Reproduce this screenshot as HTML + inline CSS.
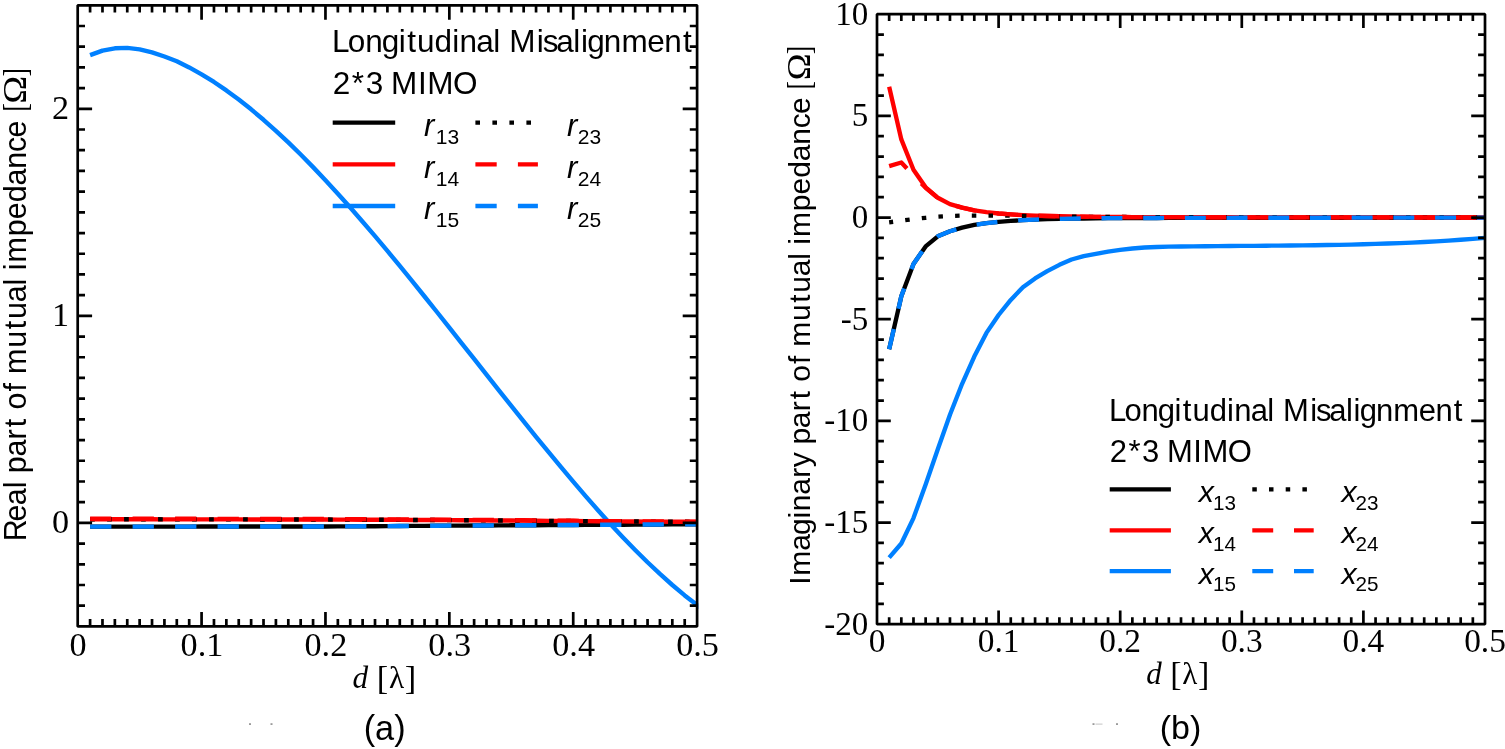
<!DOCTYPE html>
<html lang="en">
<head>
<meta charset="utf-8">
<title>Mutual impedance vs longitudinal misalignment</title>
<style>
html,body{margin:0;padding:0;background:#fff;}
body{width:1505px;height:749px;overflow:hidden;}
svg{display:block;}
</style>
</head>
<body>
<svg width="1505" height="749" viewBox="0 0 1505 749">
<rect x="0" y="0" width="1505" height="749" fill="#fff"/>
<g id="plotA">
<clipPath id="clipA"><rect x="77.7" y="5.3" width="620.6" height="621.1"/></clipPath>
<path d="M90.09 526.6L102.48 526.6L114.86 526.6L127.25 526.6L139.64 526.59L152.03 526.59L164.42 526.59L176.8 526.58L189.19 526.58L201.58 526.57L213.97 526.56L226.36 526.56L238.74 526.55L251.13 526.54L263.52 526.53L275.91 526.52L288.3 526.51L300.68 526.5L313.07 526.48L325.46 526.44L337.85 526.39L350.24 526.33L362.62 526.26L375.01 526.18L387.4 526.09L399.79 526.01L412.18 525.92L424.56 525.83L436.95 525.74L449.34 525.66L461.73 525.59L474.12 525.52L486.5 525.45L498.89 525.38L511.28 525.32L523.67 525.25L536.06 525.18L548.44 525.11L560.83 525.04L573.22 524.97L585.61 524.9L598 524.83L610.38 524.76L622.77 524.68L635.16 524.61L647.55 524.53L659.94 524.45L672.32 524.37L684.71 524.28L697.1 524.2" fill="none" stroke="#000000" stroke-width="4.4"/>
<path d="M90.09 519.3L102.48 519.3L114.86 519.3L127.25 519.31L139.64 519.31L152.03 519.32L164.42 519.33L176.8 519.34L189.19 519.35L201.58 519.36L213.97 519.38L226.36 519.39L238.74 519.41L251.13 519.43L263.52 519.44L275.91 519.46L288.3 519.48L300.68 519.5L313.07 519.53L325.46 519.56L337.85 519.6L350.24 519.64L362.62 519.69L375.01 519.75L387.4 519.81L399.79 519.87L412.18 519.94L424.56 520L436.95 520.07L449.34 520.14L461.73 520.21L474.12 520.28L486.5 520.36L498.89 520.45L511.28 520.54L523.67 520.64L536.06 520.74L548.44 520.84L560.83 520.94L573.22 521.04L585.61 521.14L598 521.24L610.38 521.33L622.77 521.42L635.16 521.5L647.55 521.59L659.94 521.67L672.32 521.75L684.71 521.82L697.1 521.9" fill="none" stroke="#ff0000" stroke-width="4.4"/>
<path d="M90.09 55.1L102.48 50.6L114.86 48.3L127.25 47.9L139.64 49.4L152.03 52.4L164.42 56.5L176.8 61.32L189.19 67.4L201.58 74.3L213.97 81.98L226.36 90.4L238.74 99.54L251.13 109.34L263.52 119.77L275.91 130.81L288.3 142.4L300.68 154.52L313.07 167.12L325.46 180.18L337.85 193.65L350.24 207.5L362.62 221.69L375.01 236.18L387.4 250.94L399.79 265.94L412.18 281.14L424.56 296.5L436.95 312L449.34 327.6L461.73 343.26L474.12 358.96L486.5 374.65L498.89 390.31L511.28 405.91L523.67 421.4L536.06 436.76L548.44 451.96L560.83 466.94L573.22 481.68L585.61 496.13L598 510.22L610.38 523.93L622.77 537.21L635.16 550L647.55 562.26L659.94 573.94L672.32 585.01L684.71 595.4L697.1 605.07L700.1 607.41" fill="none" stroke="#0080ff" stroke-width="4.4" stroke-linejoin="round" clip-path="url(#clipA)"/>
<path d="M90.09 519.3L102.48 519.3L114.86 519.3L127.25 519.31L139.64 519.31L152.03 519.32L164.42 519.33L176.8 519.34L189.19 519.35L201.58 519.36L213.97 519.38L226.36 519.39L238.74 519.41L251.13 519.43L263.52 519.44L275.91 519.46L288.3 519.48L300.68 519.5L313.07 519.53L325.46 519.56L337.85 519.6L350.24 519.64L362.62 519.69L375.01 519.75L387.4 519.81L399.79 519.87L412.18 519.94L424.56 520L436.95 520.07L449.34 520.14L461.73 520.21L474.12 520.28L486.5 520.36L498.89 520.45L511.28 520.54L523.67 520.64L536.06 520.74L548.44 520.84L560.83 520.94L573.22 521.04L585.61 521.14L598 521.24L610.38 521.33L622.77 521.42L635.16 521.5L647.55 521.59L659.94 521.67L672.32 521.75L684.71 521.82L697.1 521.9" fill="none" stroke="#000000" stroke-width="4.4" stroke-dasharray="4.7 12.3"/>
<path d="M90.09 518.7L102.48 518.7L114.86 518.71L127.25 518.71L139.64 518.72L152.03 518.73L164.42 518.75L176.8 518.76L189.19 518.78L201.58 518.8L213.97 518.82L226.36 518.84L238.74 518.87L251.13 518.89L263.52 518.92L275.91 518.95L288.3 518.97L300.68 519L313.07 519.03L325.46 519.07L337.85 519.12L350.24 519.17L362.62 519.23L375.01 519.29L387.4 519.36L399.79 519.43L412.18 519.5L424.56 519.58L436.95 519.65L449.34 519.73L461.73 519.81L474.12 519.9L486.5 519.99L498.89 520.09L511.28 520.2L523.67 520.31L536.06 520.43L548.44 520.54L560.83 520.66L573.22 520.78L585.61 520.9L598 521.01L610.38 521.12L622.77 521.22L635.16 521.32L647.55 521.42L659.94 521.52L672.32 521.61L684.71 521.71L697.1 521.8" fill="none" stroke="#ff0000" stroke-width="4.4" stroke-dasharray="21.3 21.2"/>
<path d="M90.09 526.6L102.48 526.6L114.86 526.6L127.25 526.6L139.64 526.59L152.03 526.59L164.42 526.59L176.8 526.58L189.19 526.58L201.58 526.57L213.97 526.56L226.36 526.56L238.74 526.55L251.13 526.54L263.52 526.53L275.91 526.52L288.3 526.51L300.68 526.5L313.07 526.48L325.46 526.44L337.85 526.39L350.24 526.33L362.62 526.26L375.01 526.18L387.4 526.09L399.79 526.01L412.18 525.92L424.56 525.83L436.95 525.74L449.34 525.66L461.73 525.59L474.12 525.52L486.5 525.45L498.89 525.38L511.28 525.32L523.67 525.25L536.06 525.18L548.44 525.11L560.83 525.04L573.22 524.97L585.61 524.9L598 524.83L610.38 524.76L622.77 524.68L635.16 524.61L647.55 524.53L659.94 524.45L672.32 524.37L684.71 524.28L697.1 524.2" fill="none" stroke="#0080ff" stroke-width="4.4" stroke-dasharray="21.3 21.2"/>
<rect x="77.7" y="5.3" width="619.4" height="621.1" fill="none" stroke="#000" stroke-width="2.7" stroke-linejoin="bevel"/>
<path d="M90.09 626.4v-7.3M90.09 5.3v7.3M102.48 626.4v-7.3M102.48 5.3v7.3M114.86 626.4v-7.3M114.86 5.3v7.3M127.25 626.4v-7.3M127.25 5.3v7.3M139.64 626.4v-7.3M139.64 5.3v7.3M152.03 626.4v-7.3M152.03 5.3v7.3M164.42 626.4v-7.3M164.42 5.3v7.3M176.8 626.4v-7.3M176.8 5.3v7.3M189.19 626.4v-7.3M189.19 5.3v7.3M201.58 626.4v-14.4M201.58 5.3v14.4M213.97 626.4v-7.3M213.97 5.3v7.3M226.36 626.4v-7.3M226.36 5.3v7.3M238.74 626.4v-7.3M238.74 5.3v7.3M251.13 626.4v-7.3M251.13 5.3v7.3M263.52 626.4v-7.3M263.52 5.3v7.3M275.91 626.4v-7.3M275.91 5.3v7.3M288.3 626.4v-7.3M288.3 5.3v7.3M300.68 626.4v-7.3M300.68 5.3v7.3M313.07 626.4v-7.3M313.07 5.3v7.3M325.46 626.4v-14.4M325.46 5.3v14.4M337.85 626.4v-7.3M337.85 5.3v7.3M350.24 626.4v-7.3M350.24 5.3v7.3M362.62 626.4v-7.3M362.62 5.3v7.3M375.01 626.4v-7.3M375.01 5.3v7.3M387.4 626.4v-7.3M387.4 5.3v7.3M399.79 626.4v-7.3M399.79 5.3v7.3M412.18 626.4v-7.3M412.18 5.3v7.3M424.56 626.4v-7.3M424.56 5.3v7.3M436.95 626.4v-7.3M436.95 5.3v7.3M449.34 626.4v-14.4M449.34 5.3v14.4M461.73 626.4v-7.3M461.73 5.3v7.3M474.12 626.4v-7.3M474.12 5.3v7.3M486.5 626.4v-7.3M486.5 5.3v7.3M498.89 626.4v-7.3M498.89 5.3v7.3M511.28 626.4v-7.3M511.28 5.3v7.3M523.67 626.4v-7.3M523.67 5.3v7.3M536.06 626.4v-7.3M536.06 5.3v7.3M548.44 626.4v-7.3M548.44 5.3v7.3M560.83 626.4v-7.3M560.83 5.3v7.3M573.22 626.4v-14.4M573.22 5.3v14.4M585.61 626.4v-7.3M585.61 5.3v7.3M598 626.4v-7.3M598 5.3v7.3M610.38 626.4v-7.3M610.38 5.3v7.3M622.77 626.4v-7.3M622.77 5.3v7.3M635.16 626.4v-7.3M635.16 5.3v7.3M647.55 626.4v-7.3M647.55 5.3v7.3M659.94 626.4v-7.3M659.94 5.3v7.3M672.32 626.4v-7.3M672.32 5.3v7.3M684.71 626.4v-7.3M684.71 5.3v7.3M77.7 605.7h7.3M697.1 605.7h-7.3M77.7 584.99h7.3M697.1 584.99h-7.3M77.7 564.29h7.3M697.1 564.29h-7.3M77.7 543.59h7.3M697.1 543.59h-7.3M77.7 522.88h14.4M697.1 522.88h-14.4M77.7 502.18h7.3M697.1 502.18h-7.3M77.7 481.48h7.3M697.1 481.48h-7.3M77.7 460.77h7.3M697.1 460.77h-7.3M77.7 440.07h7.3M697.1 440.07h-7.3M77.7 419.37h7.3M697.1 419.37h-7.3M77.7 398.66h7.3M697.1 398.66h-7.3M77.7 377.96h7.3M697.1 377.96h-7.3M77.7 357.26h7.3M697.1 357.26h-7.3M77.7 336.55h7.3M697.1 336.55h-7.3M77.7 315.85h14.4M697.1 315.85h-14.4M77.7 295.15h7.3M697.1 295.15h-7.3M77.7 274.44h7.3M697.1 274.44h-7.3M77.7 253.74h7.3M697.1 253.74h-7.3M77.7 233.04h7.3M697.1 233.04h-7.3M77.7 212.33h7.3M697.1 212.33h-7.3M77.7 191.63h7.3M697.1 191.63h-7.3M77.7 170.93h7.3M697.1 170.93h-7.3M77.7 150.22h7.3M697.1 150.22h-7.3M77.7 129.52h7.3M697.1 129.52h-7.3M77.7 108.82h14.4M697.1 108.82h-14.4M77.7 88.11h7.3M697.1 88.11h-7.3M77.7 67.41h7.3M697.1 67.41h-7.3M77.7 46.71h7.3M697.1 46.71h-7.3M77.7 26h7.3M697.1 26h-7.3" fill="none" stroke="#000" stroke-width="2.7"/>
<g font-family="'Liberation Serif', serif" font-size="34.2" fill="#000">
<text x="78.1" y="655.7" text-anchor="middle">0</text>
<text x="201.98" y="655.7" text-anchor="middle">0.1</text>
<text x="325.86" y="655.7" text-anchor="middle">0.2</text>
<text x="449.74" y="655.7" text-anchor="middle">0.3</text>
<text x="573.62" y="655.7" text-anchor="middle">0.4</text>
<text x="697.5" y="655.7" text-anchor="middle">0.5</text>
<text x="69.1" y="533.48" text-anchor="end">0</text>
<text x="69.1" y="326.45" text-anchor="end">1</text>
<text x="69.1" y="119.42" text-anchor="end">2</text>
</g>
</g>
<g id="plotB">
<path d="M889.16 349.3L901.32 296.3L913.48 264L925.64 246.4L937.8 236.3L949.96 231.27L962.12 227.67L974.28 224.97L986.44 223.17L998.6 221.87L1010.76 220.89L1022.92 220.15L1035.08 219.6L1047.24 219.18L1059.4 218.87L1071.56 218.64L1083.72 218.47L1095.88 218.32L1108.04 218.19L1120.2 218.11L1132.36 218.05L1144.52 218L1156.68 217.96L1168.84 217.92L1181 217.89L1193.16 217.86L1205.32 217.84L1217.48 217.82L1229.64 217.8L1241.8 217.78L1253.96 217.77L1266.12 217.76L1278.28 217.75L1290.44 217.74L1302.6 217.73L1314.76 217.72L1326.92 217.71L1339.08 217.7L1351.24 217.69L1363.4 217.68L1375.56 217.67L1387.72 217.66L1399.88 217.64L1412.04 217.63L1424.2 217.62L1436.36 217.61L1448.52 217.6L1460.68 217.59L1472.84 217.58L1485 217.57" fill="none" stroke="#000000" stroke-width="4.35" stroke-linejoin="round"/>
<path d="M889.16 86.8L901.32 139.4L913.48 169.7L925.64 187.3L937.8 197.8L949.96 204.1L962.12 207.7L974.28 210.4L986.44 212.2L998.6 213.5L1010.76 214.41L1022.92 215.1L1035.08 215.61L1047.24 216L1059.4 216.29L1071.56 216.5L1083.72 216.66L1095.88 216.81L1108.04 216.92L1120.2 217L1132.36 217.06L1144.52 217.1L1156.68 217.14L1168.84 217.17L1181 217.2L1193.16 217.23L1205.32 217.25L1217.48 217.27L1229.64 217.29L1241.8 217.3L1253.96 217.31L1266.12 217.32L1278.28 217.34L1290.44 217.35L1302.6 217.35L1314.76 217.36L1326.92 217.37L1339.08 217.38L1351.24 217.39L1363.4 217.4L1375.56 217.41L1387.72 217.42L1399.88 217.43L1412.04 217.44L1424.2 217.45L1436.36 217.46L1448.52 217.47L1460.68 217.48L1472.84 217.49L1485 217.5" fill="none" stroke="#ff0000" stroke-width="4.35" stroke-linejoin="round"/>
<path d="M889.16 557.7L901.32 543.5L913.48 518.1L925.64 484.4L937.8 449.2L949.96 414.7L962.12 383.8L974.28 356.6L986.44 332.9L998.6 315L1010.76 299.9L1022.92 287.2L1035.08 278.4L1047.24 271.2L1059.4 264.8L1071.56 259.5L1083.72 256.1L1095.88 253.8L1108.04 251.7L1120.2 249.9L1132.36 248.5L1144.52 247.5L1156.68 247L1168.84 246.7L1181 246.52L1193.16 246.37L1205.32 246.23L1217.48 246.12L1229.64 246.02L1241.8 245.92L1253.96 245.83L1266.12 245.73L1278.28 245.63L1290.44 245.51L1302.6 245.38L1314.76 245.22L1326.92 245.04L1339.08 244.82L1351.24 244.57L1363.4 244.27L1375.56 243.92L1387.72 243.52L1399.88 243.07L1412.04 242.55L1424.2 241.96L1436.36 241.3L1448.52 240.56L1460.68 239.73L1472.84 238.82L1485 237.82" fill="none" stroke="#0080ff" stroke-width="4.35" stroke-linejoin="round"/>
<path d="M889.16 222.3L901.32 220.7L913.48 219.1L925.64 217.8L937.8 216.7L949.96 216L962.12 215.6L974.28 215.6L986.44 215.6L998.6 215.6L1010.76 215.7L1022.92 215.93L1035.08 216.2L1047.24 216.4L1059.4 216.53L1071.56 216.66L1083.72 216.77L1095.88 216.86L1108.04 216.94L1120.2 217L1132.36 217.05L1144.52 217.09L1156.68 217.13L1168.84 217.16L1181 217.19L1193.16 217.22L1205.32 217.24L1217.48 217.26L1229.64 217.28L1241.8 217.3L1253.96 217.32L1266.12 217.33L1278.28 217.35L1290.44 217.36L1302.6 217.38L1314.76 217.39L1326.92 217.4L1339.08 217.42L1351.24 217.43L1363.4 217.44L1375.56 217.45L1387.72 217.46L1399.88 217.47L1412.04 217.48L1424.2 217.48L1436.36 217.49L1448.52 217.49L1460.68 217.5L1472.84 217.5L1485 217.5" fill="none" stroke="#000000" stroke-width="4.35" stroke-dasharray="4.5 12.2" stroke-dashoffset="0.5"/>
<path d="M889.16 166.1L901.32 162.5L913.48 175.5L925.64 187.8L937.8 197.8L949.96 204.1L962.12 207.7L974.28 210.4L986.44 212.2L998.6 213.5L1010.76 214.41L1022.92 215.1L1035.08 215.61L1047.24 216L1059.4 216.29L1071.56 216.5L1083.72 216.66L1095.88 216.81L1108.04 216.92L1120.2 217L1132.36 217.06L1144.52 217.1L1156.68 217.14L1168.84 217.17L1181 217.2L1193.16 217.23L1205.32 217.25L1217.48 217.27L1229.64 217.29L1241.8 217.3L1253.96 217.31L1266.12 217.32L1278.28 217.34L1290.44 217.35L1302.6 217.35L1314.76 217.36L1326.92 217.37L1339.08 217.38L1351.24 217.39L1363.4 217.4L1375.56 217.41L1387.72 217.42L1399.88 217.43L1412.04 217.44L1424.2 217.45L1436.36 217.46L1448.52 217.47L1460.68 217.48L1472.84 217.49L1485 217.5" fill="none" stroke="#ff0000" stroke-width="4.35" stroke-dasharray="20.9 20.8" stroke-linejoin="round"/>
<path d="M889.16 349.3L901.32 296.3L913.48 264L925.64 246.4L937.8 236.3L949.96 231.27L962.12 227.67L974.28 224.97L986.44 223.17L998.6 221.87L1010.76 220.89L1022.92 220.15L1035.08 219.6L1047.24 219.18L1059.4 218.87L1071.56 218.64L1083.72 218.47L1095.88 218.32L1108.04 218.19L1120.2 218.11L1132.36 218.05L1144.52 218L1156.68 217.96L1168.84 217.92L1181 217.89L1193.16 217.86L1205.32 217.84L1217.48 217.82L1229.64 217.8L1241.8 217.78L1253.96 217.77L1266.12 217.76L1278.28 217.75L1290.44 217.74L1302.6 217.73L1314.76 217.72L1326.92 217.71L1339.08 217.7L1351.24 217.69L1363.4 217.68L1375.56 217.67L1387.72 217.66L1399.88 217.64L1412.04 217.63L1424.2 217.62L1436.36 217.61L1448.52 217.6L1460.68 217.59L1472.84 217.58L1485 217.57" fill="none" stroke="#0080ff" stroke-width="4.35" stroke-dasharray="20.9 20.8" stroke-linejoin="round"/>
<rect x="877" y="14.2" width="608" height="610" fill="none" stroke="#000" stroke-width="2.7" stroke-linejoin="bevel"/>
<path d="M889.16 624.2v-6.9M889.16 14.2v6.9M901.32 624.2v-6.9M901.32 14.2v6.9M913.48 624.2v-6.9M913.48 14.2v6.9M925.64 624.2v-6.9M925.64 14.2v6.9M937.8 624.2v-6.9M937.8 14.2v6.9M949.96 624.2v-6.9M949.96 14.2v6.9M962.12 624.2v-6.9M962.12 14.2v6.9M974.28 624.2v-6.9M974.28 14.2v6.9M986.44 624.2v-6.9M986.44 14.2v6.9M998.6 624.2v-13.8M998.6 14.2v13.8M1010.76 624.2v-6.9M1010.76 14.2v6.9M1022.92 624.2v-6.9M1022.92 14.2v6.9M1035.08 624.2v-6.9M1035.08 14.2v6.9M1047.24 624.2v-6.9M1047.24 14.2v6.9M1059.4 624.2v-6.9M1059.4 14.2v6.9M1071.56 624.2v-6.9M1071.56 14.2v6.9M1083.72 624.2v-6.9M1083.72 14.2v6.9M1095.88 624.2v-6.9M1095.88 14.2v6.9M1108.04 624.2v-6.9M1108.04 14.2v6.9M1120.2 624.2v-13.8M1120.2 14.2v13.8M1132.36 624.2v-6.9M1132.36 14.2v6.9M1144.52 624.2v-6.9M1144.52 14.2v6.9M1156.68 624.2v-6.9M1156.68 14.2v6.9M1168.84 624.2v-6.9M1168.84 14.2v6.9M1181 624.2v-6.9M1181 14.2v6.9M1193.16 624.2v-6.9M1193.16 14.2v6.9M1205.32 624.2v-6.9M1205.32 14.2v6.9M1217.48 624.2v-6.9M1217.48 14.2v6.9M1229.64 624.2v-6.9M1229.64 14.2v6.9M1241.8 624.2v-13.8M1241.8 14.2v13.8M1253.96 624.2v-6.9M1253.96 14.2v6.9M1266.12 624.2v-6.9M1266.12 14.2v6.9M1278.28 624.2v-6.9M1278.28 14.2v6.9M1290.44 624.2v-6.9M1290.44 14.2v6.9M1302.6 624.2v-6.9M1302.6 14.2v6.9M1314.76 624.2v-6.9M1314.76 14.2v6.9M1326.92 624.2v-6.9M1326.92 14.2v6.9M1339.08 624.2v-6.9M1339.08 14.2v6.9M1351.24 624.2v-6.9M1351.24 14.2v6.9M1363.4 624.2v-13.8M1363.4 14.2v13.8M1375.56 624.2v-6.9M1375.56 14.2v6.9M1387.72 624.2v-6.9M1387.72 14.2v6.9M1399.88 624.2v-6.9M1399.88 14.2v6.9M1412.04 624.2v-6.9M1412.04 14.2v6.9M1424.2 624.2v-6.9M1424.2 14.2v6.9M1436.36 624.2v-6.9M1436.36 14.2v6.9M1448.52 624.2v-6.9M1448.52 14.2v6.9M1460.68 624.2v-6.9M1460.68 14.2v6.9M1472.84 624.2v-6.9M1472.84 14.2v6.9M877 603.87h6.9M1485 603.87h-6.9M877 583.53h6.9M1485 583.53h-6.9M877 563.2h6.9M1485 563.2h-6.9M877 542.87h6.9M1485 542.87h-6.9M877 522.53h13.8M1485 522.53h-13.8M877 502.2h6.9M1485 502.2h-6.9M877 481.87h6.9M1485 481.87h-6.9M877 461.53h6.9M1485 461.53h-6.9M877 441.2h6.9M1485 441.2h-6.9M877 420.87h13.8M1485 420.87h-13.8M877 400.53h6.9M1485 400.53h-6.9M877 380.2h6.9M1485 380.2h-6.9M877 359.87h6.9M1485 359.87h-6.9M877 339.53h6.9M1485 339.53h-6.9M877 319.2h13.8M1485 319.2h-13.8M877 298.87h6.9M1485 298.87h-6.9M877 278.53h6.9M1485 278.53h-6.9M877 258.2h6.9M1485 258.2h-6.9M877 237.87h6.9M1485 237.87h-6.9M877 217.53h13.8M1485 217.53h-13.8M877 197.2h6.9M1485 197.2h-6.9M877 176.87h6.9M1485 176.87h-6.9M877 156.53h6.9M1485 156.53h-6.9M877 136.2h6.9M1485 136.2h-6.9M877 115.87h13.8M1485 115.87h-13.8M877 95.53h6.9M1485 95.53h-6.9M877 75.2h6.9M1485 75.2h-6.9M877 54.87h6.9M1485 54.87h-6.9M877 34.53h6.9M1485 34.53h-6.9" fill="none" stroke="#000" stroke-width="2.7"/>
<g font-family="'Liberation Serif', serif" font-size="33.4" fill="#000">
<text x="877" y="652.3" text-anchor="middle">0</text>
<text x="998.6" y="652.3" text-anchor="middle">0.1</text>
<text x="1120.2" y="652.3" text-anchor="middle">0.2</text>
<text x="1241.8" y="652.3" text-anchor="middle">0.3</text>
<text x="1363.4" y="652.3" text-anchor="middle">0.4</text>
<text x="1485" y="652.3" text-anchor="middle">0.5</text>
<text x="868.3" y="24.6" text-anchor="end" font-size="33">10</text>
<text x="868.3" y="126.27" text-anchor="end" font-size="33">5</text>
<text x="868.3" y="227.93" text-anchor="end" font-size="33">0</text>
<text x="868.3" y="329.6" text-anchor="end" font-size="33">-5</text>
<text x="868.3" y="431.27" text-anchor="end" font-size="33">-10</text>
<text x="868.3" y="532.93" text-anchor="end" font-size="33">-15</text>
<text x="868.3" y="634.6" text-anchor="end" font-size="33">-20</text>
</g>
</g>
<g font-family="'Liberation Sans', sans-serif" fill="#000">
<text x="332.08 347.81 365.28 381.82 398.71 407.2 417.1 434.54 452.32 459.58 476.26 493.28 499.96 509.16 536.79 542.71 556.27 573.29 580.9 587.26 603.81 621.43 647.34 664.33 682.99" y="52.4" font-family="'Liberation Sans', sans-serif" font-size="31.5">Longitudinal Misalignment</text>
<text x="332.73 351.82 365.65 382.05 391.01 417.89 427.28 452.99" y="93.8" font-family="'Liberation Sans', sans-serif" font-size="31.5">2*3 MIMO</text>
<path d="M332.7 122.6H395.2" stroke="#000000" stroke-width="4.4" fill="none"/>
<path d="M475.4 122.6H537.9" stroke="#000000" stroke-width="4.4" stroke-dasharray="4.6 12.4" fill="none"/>
<text x="423.9" y="135.9" font-size="31" font-style="italic">r</text>
<text x="435.8" y="143.8" font-size="21" textLength="23.4" lengthAdjust="spacingAndGlyphs">13</text>
<text x="566.9" y="135.9" font-size="31" font-style="italic">r</text>
<text x="577.8" y="143.8" font-size="21" textLength="23.4" lengthAdjust="spacingAndGlyphs">23</text>
<path d="M332.7 164.4H395.2" stroke="#ff0000" stroke-width="4.4" fill="none"/>
<path d="M475.4 164.4H537.9" stroke="#ff0000" stroke-width="4.4" stroke-dasharray="21.3 21.2" fill="none"/>
<text x="423.9" y="177.7" font-size="31" font-style="italic">r</text>
<text x="435.8" y="185.6" font-size="21" textLength="23.4" lengthAdjust="spacingAndGlyphs">14</text>
<text x="566.9" y="177.7" font-size="31" font-style="italic">r</text>
<text x="577.8" y="185.6" font-size="21" textLength="23.4" lengthAdjust="spacingAndGlyphs">24</text>
<path d="M332.7 206H395.2" stroke="#0080ff" stroke-width="4.4" fill="none"/>
<path d="M475.4 206H537.9" stroke="#0080ff" stroke-width="4.4" stroke-dasharray="21.3 21.2" fill="none"/>
<text x="423.9" y="219.3" font-size="31" font-style="italic">r</text>
<text x="435.8" y="227.2" font-size="21" textLength="23.4" lengthAdjust="spacingAndGlyphs">15</text>
<text x="566.9" y="219.3" font-size="31" font-style="italic">r</text>
<text x="577.8" y="227.2" font-size="21" textLength="23.4" lengthAdjust="spacingAndGlyphs">25</text>
</g>
<g font-family="'Liberation Sans', sans-serif" fill="#000">
<text x="1108.96 1124.42 1141.59 1157.84 1174.44 1182.78 1192.51 1209.64 1227.12 1234.25 1250.64 1267.37 1273.93 1282.97 1310.13 1315.94 1329.27 1346 1353.48 1359.73 1375.98 1393.3 1418.76 1435.46 1453.81" y="420.7" font-family="'Liberation Sans', sans-serif" font-size="31">Longitudinal Misalignment</text>
<text x="1109.72 1128.47 1142.04 1158.15 1166.93 1193.34 1202.53 1227.79" y="461.6" font-family="'Liberation Sans', sans-serif" font-size="31">2*3 MIMO</text>
<path d="M1109.7 489.4H1170.9" stroke="#000000" stroke-width="4.35" fill="none"/>
<path d="M1252.3 489.4H1313.7" stroke="#000000" stroke-width="4.35" stroke-dasharray="4.5 12.2" fill="none"/>
<text x="1198.7" y="502.1" font-size="30.3" font-style="italic">x</text>
<text x="1212.9" y="509.7" font-size="20.6" textLength="23" lengthAdjust="spacingAndGlyphs">13</text>
<text x="1341.4" y="502.1" font-size="30.3" font-style="italic">x</text>
<text x="1355.4" y="509.7" font-size="20.6" textLength="23" lengthAdjust="spacingAndGlyphs">23</text>
<path d="M1109.7 530.3H1170.9" stroke="#ff0000" stroke-width="4.35" fill="none"/>
<path d="M1252.3 530.3H1313.7" stroke="#ff0000" stroke-width="4.35" stroke-dasharray="20.9 20.8" fill="none"/>
<text x="1198.7" y="543" font-size="30.3" font-style="italic">x</text>
<text x="1212.9" y="550.6" font-size="20.6" textLength="23" lengthAdjust="spacingAndGlyphs">14</text>
<text x="1341.4" y="543" font-size="30.3" font-style="italic">x</text>
<text x="1355.4" y="550.6" font-size="20.6" textLength="23" lengthAdjust="spacingAndGlyphs">24</text>
<path d="M1109.7 571.1H1170.9" stroke="#0080ff" stroke-width="4.35" fill="none"/>
<path d="M1252.3 571.1H1313.7" stroke="#0080ff" stroke-width="4.35" stroke-dasharray="20.9 20.8" fill="none"/>
<text x="1198.7" y="583.8" font-size="30.3" font-style="italic">x</text>
<text x="1212.9" y="591.4" font-size="20.6" textLength="23" lengthAdjust="spacingAndGlyphs">15</text>
<text x="1341.4" y="583.8" font-size="30.3" font-style="italic">x</text>
<text x="1355.4" y="591.4" font-size="20.6" textLength="23" lengthAdjust="spacingAndGlyphs">25</text>
</g>
<g transform="translate(26 540) rotate(-90)"><text x="-1.33 18.54 34.81 51.69 58.42 66.68 83.4 100.59 112.83 122.17 130.46 148.56 157.41 166.01 192.28 210.85 220.93 237.65 254.53 261.26 269.69 277.49 303.76 320.8 337.84 354.56 371.28 387.92 402.4" y="0" font-family="'Liberation Sans', sans-serif" font-size="30.5">Real part of mutual impedance</text><text x="428.44" y="0" font-family="'Liberation Serif', serif" font-size="33.9" textLength="8.35" lengthAdjust="spacingAndGlyphs">[</text><text x="436.34" y="0" font-family="'Liberation Serif', serif" font-size="34.0" textLength="28.05" lengthAdjust="spacingAndGlyphs">Ω</text><text x="463.5" y="0" font-family="'Liberation Serif', serif" font-size="33.9" textLength="8.35" lengthAdjust="spacingAndGlyphs">]</text></g>
<g transform="translate(809.7 584.5) rotate(-90)"><text x="-0.13 8.77 33.88 49.45 65.94 73.29 89.75 106.68 117.32 131.79 139.92 156.38 173.31 185.35 194.55 202.72 220.53 229.24 237.72 263.58 281.85 291.78 308.24 324.86 331.48 339.78 347.47 373.33 390.1 406.87 423.33 439.79 456.18 470.44" y="0" font-family="'Liberation Sans', sans-serif" font-size="30.0">Imaginary part of mutual impedance</text><text x="495.27" y="0" font-family="'Liberation Serif', serif" font-size="33.9" textLength="8.24" lengthAdjust="spacingAndGlyphs">[</text><text x="504.32" y="0" font-family="'Liberation Serif', serif" font-size="33.5" textLength="26.89" lengthAdjust="spacingAndGlyphs">Ω</text><text x="530.21" y="0" font-family="'Liberation Serif', serif" font-size="33.9" textLength="8.24" lengthAdjust="spacingAndGlyphs">]</text></g>
<text x="352.6" y="687.5" font-family="'Liberation Serif', serif" font-size="31.3"><tspan font-style="italic">d</tspan> <tspan font-size="34.5" dx="0.6" dy="1.5">[</tspan><tspan dx="0.7" dy="-1.5">λ</tspan><tspan font-size="34.5" dx="0.7" dy="1.5">]</tspan></text>
<text x="1146.3" y="683.8" font-family="'Liberation Serif', serif" font-size="31"><tspan font-style="italic">d</tspan> <tspan font-size="34" dx="0.7" dy="1.6">[</tspan><tspan dx="0.7" dy="-1.6">λ</tspan><tspan font-size="34" dx="0.7" dy="1.6">]</tspan></text>
<text x="363.7" y="739.8" font-family="'Liberation Sans', sans-serif" font-size="34.3">(a)</text>
<text x="1159.7" y="739.0" font-family="'Liberation Sans', sans-serif" font-size="34">(b)</text>
<g fill="#9a9a9a"><rect x="249" y="723.2" width="2" height="1.8"/><rect x="270.5" y="723.2" width="2" height="1.8"/><rect x="1092.5" y="723.2" width="2" height="1.8"/><rect x="1095.5" y="723.6" width="7" height="1" fill="#c4c4c4"/><rect x="1116" y="723.2" width="2" height="1.8"/></g>
</svg>
</body>
</html>
